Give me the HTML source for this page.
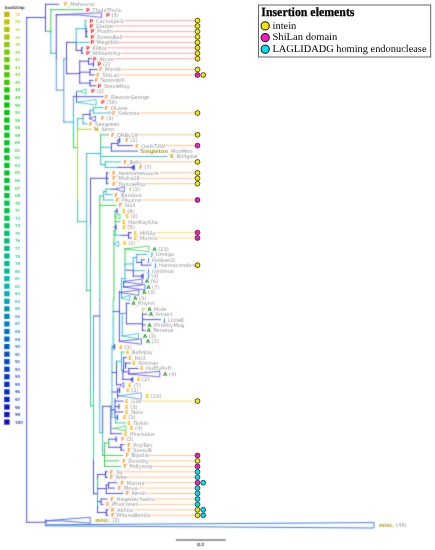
<!DOCTYPE html>
<html><head><meta charset="utf-8"><title>tree</title>
<style>html,body{margin:0;padding:0;background:#fff}svg{display:block}</style></head>
<body>
<svg width="435" height="550" viewBox="0 0 435 550" text-rendering="geometricPrecision">
<defs><filter id="bl" x="-5%" y="-5%" width="110%" height="110%"><feConvolveMatrix order="3" kernelMatrix="1 3 1 3 18 3 1 3 1" divisor="34" edgeMode="none" preserveAlpha="false"/></filter><filter id="bt" x="-5%" y="-5%" width="110%" height="110%"><feConvolveMatrix order="3" kernelMatrix="1 2 1 2 22 2 1 2 1" divisor="34" edgeMode="none" preserveAlpha="false"/></filter></defs>
<rect width="435" height="550" fill="#fff"/>
<g filter="url(#bl)">
<g stroke-linecap="square"><line x1="26.7" y1="17.5" x2="26.7" y2="522.3" stroke="#4040dc" stroke-width="0.92"/><line x1="26.7" y1="17.5" x2="45.5" y2="17.5" stroke="#4040dc" stroke-width="0.92"/><line x1="45.5" y1="4.3" x2="45.5" y2="31.3" stroke="#4040dc" stroke-width="0.92"/><line x1="45.5" y1="4.3" x2="58.5" y2="4.3" stroke="#4040dc" stroke-width="0.92"/><line x1="45.5" y1="31.3" x2="50.8" y2="31.3" stroke="#28c846" stroke-width="0.92"/><line x1="50.8" y1="9.7" x2="50.8" y2="32.0" stroke="#28c846" stroke-width="0.92"/><line x1="50.8" y1="32.0" x2="50.8" y2="53.2" stroke="#22b8c4" stroke-width="0.92"/><line x1="50.8" y1="9.7" x2="83.0" y2="9.7" stroke="#28c846" stroke-width="0.92"/><line x1="50.8" y1="53.2" x2="56.3" y2="53.2" stroke="#22b8c4" stroke-width="0.92"/><line x1="56.3" y1="14.8" x2="56.3" y2="60.0" stroke="#4040dc" stroke-width="0.92"/><line x1="56.3" y1="60.0" x2="56.3" y2="90.2" stroke="#4a90e2" stroke-width="0.92"/><polygon points="56.3,14.8 101.7,12.8 101.7,17.4 79.0,15.0" fill="none" stroke="#4040dc" stroke-width="0.75" stroke-linejoin="miter"/><line x1="56.3" y1="90.2" x2="63.8" y2="90.2" stroke="#4a90e2" stroke-width="0.92"/><line x1="63.8" y1="59.0" x2="63.8" y2="122.0" stroke="#4a90e2" stroke-width="0.92"/><line x1="63.8" y1="59.0" x2="66.5" y2="59.0" stroke="#22b8c4" stroke-width="0.92"/><line x1="63.8" y1="122.0" x2="73.4" y2="122.0" stroke="#4a90e2" stroke-width="0.92"/><line x1="66.5" y1="42.4" x2="66.5" y2="73.6" stroke="#4040dc" stroke-width="0.92"/><line x1="66.5" y1="42.4" x2="76.2" y2="42.4" stroke="#4040dc" stroke-width="0.92"/><line x1="76.2" y1="28.6" x2="76.2" y2="42.4" stroke="#22b8c4" stroke-width="0.92"/><line x1="76.2" y1="42.4" x2="76.2" y2="50.0" stroke="#4040dc" stroke-width="0.92"/><line x1="76.2" y1="28.6" x2="85.2" y2="28.6" stroke="#22b8c4" stroke-width="0.92"/><line x1="85.2" y1="20.6" x2="85.2" y2="29.0" stroke="#22b8c4" stroke-width="0.92"/><line x1="85.2" y1="20.6" x2="86.3" y2="20.6" stroke="#22b8c4" stroke-width="0.92"/><line x1="85.2" y1="26.0" x2="86.3" y2="26.0" stroke="#22b8c4" stroke-width="0.92"/><line x1="86.1" y1="28.6" x2="86.1" y2="36.9" stroke="#4040dc" stroke-width="1.3"/><line x1="86.1" y1="31.5" x2="87.2" y2="31.5" stroke="#4040dc" stroke-width="0.92"/><line x1="86.1" y1="36.9" x2="87.2" y2="36.9" stroke="#4040dc" stroke-width="0.92"/><line x1="76.2" y1="42.4" x2="89.0" y2="42.4" stroke="#22b8c4" stroke-width="0.92"/><line x1="76.2" y1="50.4" x2="81.7" y2="50.4" stroke="#4040dc" stroke-width="0.92"/><line x1="81.7" y1="47.8" x2="81.7" y2="53.2" stroke="#4040dc" stroke-width="1.1"/><line x1="81.7" y1="47.8" x2="82.8" y2="47.8" stroke="#4040dc" stroke-width="0.92"/><line x1="81.7" y1="53.2" x2="82.8" y2="53.2" stroke="#4040dc" stroke-width="0.92"/><line x1="66.5" y1="73.6" x2="79.7" y2="73.6" stroke="#4040dc" stroke-width="0.92"/><line x1="79.7" y1="61.2" x2="79.7" y2="83.1" stroke="#4040dc" stroke-width="0.92"/><line x1="79.7" y1="61.2" x2="88.6" y2="61.2" stroke="#4040dc" stroke-width="0.92"/><line x1="88.6" y1="58.7" x2="88.6" y2="64.1" stroke="#4040dc" stroke-width="0.92"/><line x1="88.6" y1="58.7" x2="91.4" y2="58.7" stroke="#4040dc" stroke-width="0.92"/><line x1="88.6" y1="64.1" x2="93.4" y2="64.1" stroke="#4040dc" stroke-width="0.92"/><line x1="93.4" y1="61.9" x2="93.4" y2="66.3" stroke="#4040dc" stroke-width="1.1"/><line x1="79.7" y1="72.2" x2="90.0" y2="72.2" stroke="#4040dc" stroke-width="0.92"/><line x1="90.0" y1="69.5" x2="90.0" y2="75.0" stroke="#4040dc" stroke-width="0.92"/><line x1="90.0" y1="69.5" x2="97.0" y2="69.5" stroke="#4040dc" stroke-width="0.92"/><line x1="90.0" y1="75.0" x2="94.5" y2="75.0" stroke="#4040dc" stroke-width="0.92"/><line x1="79.7" y1="83.1" x2="90.0" y2="83.1" stroke="#4040dc" stroke-width="0.92"/><line x1="90.0" y1="80.4" x2="90.0" y2="85.8" stroke="#4040dc" stroke-width="0.92"/><line x1="90.0" y1="80.4" x2="93.0" y2="80.4" stroke="#4040dc" stroke-width="0.92"/><line x1="90.0" y1="85.8" x2="96.0" y2="85.8" stroke="#4040dc" stroke-width="0.92"/><line x1="73.4" y1="96.4" x2="73.4" y2="115.0" stroke="#4a90e2" stroke-width="0.92"/><line x1="73.4" y1="115.0" x2="73.4" y2="135.0" stroke="#22b8c4" stroke-width="0.92"/><line x1="73.4" y1="135.0" x2="73.4" y2="147.6" stroke="#28c846" stroke-width="0.92"/><line x1="73.4" y1="96.4" x2="76.5" y2="96.4" stroke="#4040dc" stroke-width="0.92"/><line x1="76.5" y1="91.3" x2="76.5" y2="102.0" stroke="#4040dc" stroke-width="0.92"/><line x1="76.5" y1="91.3" x2="81.0" y2="91.3" stroke="#22b8c4" stroke-width="0.92"/><polygon points="81.0,91.3 86.1,88.9 86.1,93.7" fill="none" stroke="#24c890" stroke-width="0.75" stroke-linejoin="miter"/><line x1="76.5" y1="96.7" x2="103.0" y2="96.7" stroke="#4040dc" stroke-width="0.92"/><polygon points="76.5,102.1 96.2,99.6 96.2,104.6" fill="none" stroke="#22b8c4" stroke-width="0.75" stroke-linejoin="miter"/><line x1="73.4" y1="147.6" x2="77.6" y2="147.6" stroke="#28c846" stroke-width="0.92"/><line x1="77.6" y1="118.6" x2="77.6" y2="128.0" stroke="#22b8c4" stroke-width="0.92"/><line x1="77.6" y1="128.0" x2="77.6" y2="200.0" stroke="#9ed02a" stroke-width="0.92"/><line x1="77.6" y1="200.0" x2="77.6" y2="221.7" stroke="#24c890" stroke-width="0.92"/><line x1="77.6" y1="118.6" x2="83.1" y2="118.6" stroke="#22b8c4" stroke-width="0.92"/><line x1="83.1" y1="114.5" x2="83.1" y2="123.9" stroke="#4a90e2" stroke-width="0.92"/><line x1="83.1" y1="123.9" x2="87.0" y2="123.9" stroke="#22b8c4" stroke-width="0.92"/><line x1="83.1" y1="114.5" x2="90.0" y2="114.5" stroke="#4040dc" stroke-width="0.92"/><line x1="90.0" y1="110.3" x2="90.0" y2="118.5" stroke="#4040dc" stroke-width="0.92"/><line x1="90.0" y1="110.3" x2="93.4" y2="110.3" stroke="#22b8c4" stroke-width="0.92"/><line x1="93.4" y1="107.6" x2="93.4" y2="113.0" stroke="#22b8c4" stroke-width="0.92"/><line x1="93.4" y1="107.6" x2="103.0" y2="107.6" stroke="#22b8c4" stroke-width="0.92"/><line x1="93.4" y1="113.0" x2="111.0" y2="113.0" stroke="#22b8c4" stroke-width="0.92"/><polygon points="90.0,118.5 95.5,116.1 95.5,120.9" fill="none" stroke="#4040dc" stroke-width="0.75" stroke-linejoin="miter"/><line x1="77.6" y1="129.3" x2="91.0" y2="129.3" stroke="#9ed02a" stroke-width="0.92"/><line x1="77.6" y1="221.7" x2="86.7" y2="221.7" stroke="#24c890" stroke-width="0.92"/><line x1="86.7" y1="153.5" x2="86.7" y2="235.0" stroke="#22b8c4" stroke-width="0.92"/><line x1="86.7" y1="235.0" x2="86.7" y2="290.7" stroke="#24c890" stroke-width="0.92"/><line x1="86.7" y1="153.5" x2="100.7" y2="153.5" stroke="#22b8c4" stroke-width="0.92"/><line x1="100.7" y1="134.8" x2="100.7" y2="150.0" stroke="#28c846" stroke-width="0.92"/><line x1="100.7" y1="150.0" x2="100.7" y2="164.6" stroke="#22b8c4" stroke-width="0.92"/><line x1="100.7" y1="134.8" x2="108.5" y2="134.8" stroke="#28c846" stroke-width="0.92"/><line x1="100.7" y1="147.3" x2="111.4" y2="147.3" stroke="#22b8c4" stroke-width="0.92"/><line x1="111.4" y1="143.5" x2="111.4" y2="151.1" stroke="#4040dc" stroke-width="0.92"/><line x1="111.4" y1="151.1" x2="137.5" y2="151.1" stroke="#4040dc" stroke-width="0.92"/><line x1="111.4" y1="143.5" x2="117.9" y2="143.5" stroke="#4040dc" stroke-width="0.92"/><line x1="117.9" y1="140.2" x2="117.9" y2="145.6" stroke="#4040dc" stroke-width="0.92"/><line x1="117.9" y1="140.2" x2="119.6" y2="140.2" stroke="#4040dc" stroke-width="0.92"/><line x1="119.6" y1="138.0" x2="119.6" y2="142.4" stroke="#4040dc" stroke-width="1.1"/><line x1="117.9" y1="145.6" x2="132.5" y2="145.6" stroke="#4040dc" stroke-width="0.92"/><line x1="100.7" y1="156.5" x2="167.0" y2="156.5" stroke="#22b8c4" stroke-width="0.92"/><line x1="100.7" y1="164.6" x2="105.3" y2="164.6" stroke="#22b8c4" stroke-width="0.92"/><line x1="105.3" y1="161.9" x2="105.3" y2="167.4" stroke="#22b8c4" stroke-width="0.92"/><line x1="105.3" y1="161.9" x2="120.5" y2="161.9" stroke="#24c890" stroke-width="0.92"/><line x1="105.3" y1="167.4" x2="118.0" y2="167.4" stroke="#22b8c4" stroke-width="0.92"/><line x1="118.0" y1="167.4" x2="131.2" y2="167.4" stroke="#4040dc" stroke-width="0.92"/><polygon points="131.2,167.4 134.4,165.1 134.4,169.7" fill="#4040dc" stroke="#4040dc" stroke-width="0.75" stroke-linejoin="miter"/><line x1="86.7" y1="290.7" x2="90.5" y2="290.7" stroke="#24c890" stroke-width="0.92"/><line x1="90.5" y1="178.3" x2="90.5" y2="225.0" stroke="#4040dc" stroke-width="0.92"/><line x1="90.5" y1="225.0" x2="90.5" y2="260.0" stroke="#4a90e2" stroke-width="0.92"/><line x1="90.5" y1="260.0" x2="90.5" y2="285.0" stroke="#22b8c4" stroke-width="0.92"/><line x1="90.5" y1="285.0" x2="90.5" y2="405.7" stroke="#24c890" stroke-width="0.92"/><line x1="90.5" y1="178.3" x2="106.7" y2="178.3" stroke="#4040dc" stroke-width="0.92"/><line x1="106.7" y1="172.8" x2="106.7" y2="183.7" stroke="#4040dc" stroke-width="1.1"/><line x1="106.7" y1="172.8" x2="108.0" y2="172.8" stroke="#4040dc" stroke-width="0.92"/><line x1="106.7" y1="178.3" x2="108.0" y2="178.3" stroke="#4040dc" stroke-width="0.92"/><line x1="106.7" y1="183.7" x2="108.0" y2="183.7" stroke="#4040dc" stroke-width="0.92"/><line x1="90.5" y1="405.7" x2="93.5" y2="405.7" stroke="#24c890" stroke-width="0.92"/><line x1="93.5" y1="316.0" x2="93.5" y2="390.0" stroke="#4a90e2" stroke-width="0.92"/><line x1="93.5" y1="390.0" x2="93.5" y2="460.0" stroke="#24c890" stroke-width="0.92"/><line x1="93.5" y1="460.0" x2="93.5" y2="493.7" stroke="#4040dc" stroke-width="0.92"/><line x1="93.5" y1="316.0" x2="99.8" y2="316.0" stroke="#4040dc" stroke-width="0.92"/><line x1="99.8" y1="195.9" x2="99.8" y2="275.0" stroke="#28c846" stroke-width="0.92"/><line x1="99.8" y1="275.0" x2="99.8" y2="300.0" stroke="#24c890" stroke-width="0.92"/><line x1="99.8" y1="300.0" x2="99.8" y2="400.0" stroke="#4a90e2" stroke-width="0.92"/><line x1="99.8" y1="400.0" x2="99.8" y2="432.6" stroke="#22b8c4" stroke-width="0.92"/><line x1="99.8" y1="195.9" x2="103.6" y2="195.9" stroke="#22b8c4" stroke-width="0.92"/><line x1="103.6" y1="191.5" x2="103.6" y2="200.0" stroke="#22b8c4" stroke-width="0.92"/><line x1="103.6" y1="191.5" x2="105.9" y2="191.5" stroke="#22b8c4" stroke-width="0.92"/><line x1="105.9" y1="189.1" x2="105.9" y2="194.6" stroke="#22b8c4" stroke-width="0.92"/><line x1="105.9" y1="189.1" x2="112.0" y2="189.1" stroke="#22b8c4" stroke-width="0.92"/><line x1="112.0" y1="189.1" x2="116.6" y2="189.1" stroke="#4040dc" stroke-width="0.92"/><polygon points="116.6,189.1 124.3,186.5 124.3,191.7" fill="none" stroke="#4040dc" stroke-width="0.75" stroke-linejoin="miter"/><line x1="105.9" y1="194.6" x2="112.0" y2="194.6" stroke="#22b8c4" stroke-width="0.92"/><line x1="103.6" y1="200.0" x2="113.0" y2="200.0" stroke="#22b8c4" stroke-width="0.92"/><line x1="99.8" y1="205.4" x2="116.0" y2="205.4" stroke="#28c846" stroke-width="0.92"/><line x1="115.2" y1="210.9" x2="115.2" y2="234.8" stroke="#28c846" stroke-width="0.92"/><line x1="114.0" y1="230.5" x2="114.0" y2="300.0" stroke="#28c846" stroke-width="0.92"/><line x1="113.2" y1="300.0" x2="113.2" y2="320.0" stroke="#24c890" stroke-width="0.92"/><line x1="113.2" y1="320.0" x2="113.2" y2="350.0" stroke="#22b8c4" stroke-width="0.92"/><line x1="112.0" y1="346.0" x2="112.0" y2="418.0" stroke="#22b8c4" stroke-width="0.92"/><line x1="110.8" y1="406.0" x2="110.8" y2="433.7" stroke="#4040dc" stroke-width="0.92"/><line x1="102.6" y1="406.4" x2="111.0" y2="406.4" stroke="#4040dc" stroke-width="0.92"/><line x1="102.6" y1="406.4" x2="102.6" y2="432.6" stroke="#4040dc" stroke-width="0.92"/><line x1="102.6" y1="432.6" x2="102.6" y2="455.5" stroke="#22b8c4" stroke-width="0.92"/><line x1="99.8" y1="432.6" x2="102.6" y2="432.6" stroke="#22b8c4" stroke-width="0.92"/><line x1="110.8" y1="433.7" x2="121.5" y2="433.7" stroke="#4040dc" stroke-width="0.92"/><line x1="115.2" y1="210.9" x2="117.0" y2="210.9" stroke="#4040dc" stroke-width="0.92"/><line x1="117.0" y1="208.7" x2="117.0" y2="213.1" stroke="#4040dc" stroke-width="1.1"/><polygon points="115.2,216.3 120.0,213.9 120.0,218.7" fill="none" stroke="#28c846" stroke-width="0.75" stroke-linejoin="miter"/><line x1="115.2" y1="221.7" x2="120.0" y2="221.7" stroke="#28c846" stroke-width="0.92"/><line x1="114.0" y1="227.2" x2="116.0" y2="227.2" stroke="#4040dc" stroke-width="0.92"/><line x1="116.0" y1="225.0" x2="116.0" y2="229.4" stroke="#4040dc" stroke-width="1.1"/><line x1="114.5" y1="235.3" x2="122.0" y2="235.3" stroke="#22b8c4" stroke-width="0.92"/><line x1="122.0" y1="235.3" x2="128.6" y2="235.3" stroke="#4040dc" stroke-width="0.92"/><line x1="128.6" y1="232.6" x2="128.6" y2="238.0" stroke="#4040dc" stroke-width="1.1"/><line x1="128.6" y1="232.6" x2="131.5" y2="232.6" stroke="#4040dc" stroke-width="0.92"/><line x1="128.6" y1="238.0" x2="131.5" y2="238.0" stroke="#4040dc" stroke-width="0.92"/><polygon points="114.0,243.5 118.6,241.1 118.6,245.9" fill="none" stroke="#22b8c4" stroke-width="0.75" stroke-linejoin="miter"/><line x1="113.2" y1="311.6" x2="119.4" y2="311.6" stroke="#4040dc" stroke-width="0.92"/><line x1="119.4" y1="291.3" x2="119.4" y2="341.3" stroke="#4040dc" stroke-width="0.92"/><line x1="125.0" y1="248.9" x2="125.0" y2="265.0" stroke="#28c846" stroke-width="0.92"/><line x1="125.0" y1="265.0" x2="125.0" y2="283.0" stroke="#22b8c4" stroke-width="0.92"/><polygon points="125.0,248.9 148.9,246.0 148.9,251.2" fill="none" stroke="#28c846" stroke-width="0.75" stroke-linejoin="miter"/><line x1="125.0" y1="264.0" x2="133.3" y2="264.0" stroke="#22b8c4" stroke-width="0.92"/><line x1="133.3" y1="257.5" x2="133.3" y2="270.7" stroke="#22b8c4" stroke-width="0.92"/><line x1="133.3" y1="257.5" x2="136.7" y2="257.5" stroke="#22b8c4" stroke-width="0.92"/><line x1="136.7" y1="254.4" x2="136.7" y2="262.5" stroke="#4a90e2" stroke-width="0.92"/><line x1="136.7" y1="254.4" x2="147.0" y2="254.4" stroke="#22b8c4" stroke-width="0.92"/><line x1="136.7" y1="262.5" x2="141.6" y2="262.5" stroke="#4040dc" stroke-width="0.92"/><line x1="141.6" y1="259.8" x2="141.6" y2="265.2" stroke="#4040dc" stroke-width="0.92"/><line x1="141.6" y1="259.8" x2="144.5" y2="259.8" stroke="#4040dc" stroke-width="0.92"/><line x1="141.6" y1="265.2" x2="151.0" y2="265.2" stroke="#4040dc" stroke-width="0.92"/><line x1="133.3" y1="270.7" x2="144.5" y2="270.7" stroke="#22b8c4" stroke-width="0.92"/><line x1="125.7" y1="270.2" x2="133.3" y2="270.2" stroke="#4040dc" stroke-width="0.92"/><line x1="133.3" y1="270.7" x2="133.3" y2="276.1" stroke="#4040dc" stroke-width="0.92"/><line x1="133.3" y1="276.1" x2="141.0" y2="276.1" stroke="#4040dc" stroke-width="0.92"/><polygon points="141.0,276.1 143.2,273.7 143.2,278.5" fill="#4040dc" stroke="#4040dc" stroke-width="0.75" stroke-linejoin="miter"/><polygon points="123.6,281.5 142.2,279.1 142.2,283.9" fill="none" stroke="#4040dc" stroke-width="0.75" stroke-linejoin="miter"/><polygon points="123.6,287.0 145.0,284.6 145.0,289.4" fill="none" stroke="#4040dc" stroke-width="0.75" stroke-linejoin="miter"/><line x1="123.6" y1="281.5" x2="123.6" y2="287.0" stroke="#4040dc" stroke-width="0.92"/><line x1="121.5" y1="278.6" x2="121.5" y2="297.8" stroke="#22b8c4" stroke-width="0.92"/><line x1="121.5" y1="278.6" x2="125.0" y2="278.6" stroke="#22b8c4" stroke-width="0.92"/><polygon points="119.5,292.4 138.8,290.0 138.8,294.8" fill="none" stroke="#4040dc" stroke-width="0.75" stroke-linejoin="miter"/><polygon points="121.5,297.8 129.6,295.4 129.6,300.2" fill="none" stroke="#22b8c4" stroke-width="0.75" stroke-linejoin="miter"/><line x1="122.2" y1="313.4" x2="122.2" y2="335.9" stroke="#22b8c4" stroke-width="0.92"/><line x1="119.4" y1="313.4" x2="126.4" y2="313.4" stroke="#4a90e2" stroke-width="0.92"/><line x1="126.4" y1="303.3" x2="126.4" y2="323.8" stroke="#4040dc" stroke-width="0.92"/><line x1="126.4" y1="303.3" x2="129.5" y2="303.3" stroke="#4040dc" stroke-width="0.92"/><line x1="126.4" y1="323.8" x2="142.5" y2="323.8" stroke="#4040dc" stroke-width="0.92"/><line x1="142.5" y1="308.7" x2="142.5" y2="314.0" stroke="#9ed02a" stroke-width="0.92"/><line x1="142.5" y1="314.0" x2="142.5" y2="330.5" stroke="#4040dc" stroke-width="0.92"/><line x1="142.5" y1="308.7" x2="145.5" y2="308.7" stroke="#9ed02a" stroke-width="0.92"/><line x1="142.5" y1="314.2" x2="147.0" y2="314.2" stroke="#4040dc" stroke-width="0.92"/><line x1="142.5" y1="319.6" x2="160.5" y2="319.6" stroke="#4040dc" stroke-width="0.92"/><line x1="142.5" y1="325.0" x2="145.5" y2="325.0" stroke="#4040dc" stroke-width="0.92"/><line x1="142.5" y1="330.5" x2="145.0" y2="330.5" stroke="#4040dc" stroke-width="0.92"/><polygon points="122.2,335.9 138.5,333.5 138.5,338.3" fill="none" stroke="#22b8c4" stroke-width="0.75" stroke-linejoin="miter"/><polygon points="119.4,341.3 141.5,338.9 141.5,343.7" fill="none" stroke="#4040dc" stroke-width="0.75" stroke-linejoin="miter"/><line x1="112.5" y1="346.8" x2="114.6" y2="346.8" stroke="#4040dc" stroke-width="0.92"/><line x1="114.6" y1="344.6" x2="114.6" y2="349.0" stroke="#4040dc" stroke-width="1.1"/><line x1="112.0" y1="372.5" x2="116.5" y2="372.5" stroke="#4040dc" stroke-width="0.92"/><line x1="116.5" y1="361.3" x2="116.5" y2="384.8" stroke="#4040dc" stroke-width="0.92"/><line x1="116.5" y1="361.3" x2="121.5" y2="361.3" stroke="#22b8c4" stroke-width="0.92"/><line x1="121.5" y1="352.2" x2="121.5" y2="370.3" stroke="#22b8c4" stroke-width="0.92"/><line x1="121.5" y1="352.2" x2="124.0" y2="352.2" stroke="#22b8c4" stroke-width="0.92"/><line x1="123.6" y1="357.6" x2="123.6" y2="371.9" stroke="#4040dc" stroke-width="0.92"/><line x1="123.6" y1="357.6" x2="126.5" y2="357.6" stroke="#4040dc" stroke-width="0.92"/><line x1="125.5" y1="363.0" x2="125.5" y2="368.0" stroke="#4040dc" stroke-width="1.2"/><line x1="125.5" y1="363.1" x2="130.5" y2="363.1" stroke="#4040dc" stroke-width="0.92"/><line x1="123.6" y1="371.9" x2="128.8" y2="371.9" stroke="#4040dc" stroke-width="0.92"/><line x1="128.8" y1="368.5" x2="128.8" y2="373.9" stroke="#4040dc" stroke-width="0.92"/><line x1="128.8" y1="368.5" x2="138.0" y2="368.5" stroke="#4040dc" stroke-width="0.92"/><polygon points="128.8,373.9 159.8,371.4 159.8,376.4" fill="none" stroke="#4040dc" stroke-width="0.75" stroke-linejoin="miter"/><line x1="122.8" y1="370.0" x2="122.8" y2="379.4" stroke="#4040dc" stroke-width="0.92"/><line x1="122.8" y1="379.4" x2="130.5" y2="379.4" stroke="#4040dc" stroke-width="0.92"/><polygon points="130.5,379.4 132.8,377.1 132.8,381.7" fill="#4040dc" stroke="#4040dc" stroke-width="0.75" stroke-linejoin="miter"/><line x1="116.5" y1="384.8" x2="120.6" y2="384.8" stroke="#4040dc" stroke-width="0.92"/><polygon points="120.6,384.8 123.8,382.5 123.8,387.1" fill="none" stroke="#4040dc" stroke-width="0.75" stroke-linejoin="miter"/><line x1="112.0" y1="392.0" x2="117.6" y2="392.0" stroke="#4040dc" stroke-width="0.92"/><line x1="117.6" y1="388.0" x2="117.6" y2="398.0" stroke="#4040dc" stroke-width="0.92"/><line x1="117.6" y1="390.3" x2="119.6" y2="390.3" stroke="#4040dc" stroke-width="0.92"/><line x1="119.6" y1="388.1" x2="119.6" y2="392.5" stroke="#4040dc" stroke-width="1.1"/><line x1="117.6" y1="395.7" x2="119.5" y2="395.7" stroke="#4040dc" stroke-width="0.92"/><polygon points="119.5,395.7 141.4,392.8 141.4,398.6" fill="none" stroke="#4a90e2" stroke-width="0.75" stroke-linejoin="miter"/><line x1="115.0" y1="398.8" x2="115.0" y2="418.0" stroke="#4040dc" stroke-width="0.92"/><line x1="111.5" y1="409.8" x2="115.0" y2="409.8" stroke="#4040dc" stroke-width="0.92"/><line x1="115.0" y1="401.1" x2="123.0" y2="401.1" stroke="#4040dc" stroke-width="0.92"/><line x1="115.0" y1="406.6" x2="118.9" y2="406.6" stroke="#4040dc" stroke-width="0.92"/><line x1="118.9" y1="404.4" x2="118.9" y2="408.8" stroke="#4040dc" stroke-width="1.1"/><line x1="115.0" y1="412.0" x2="123.0" y2="412.0" stroke="#4040dc" stroke-width="0.92"/><line x1="115.0" y1="417.4" x2="117.5" y2="417.4" stroke="#4040dc" stroke-width="0.92"/><line x1="117.5" y1="415.2" x2="117.5" y2="419.6" stroke="#4040dc" stroke-width="1.1"/><line x1="115.7" y1="416.7" x2="115.7" y2="422.9" stroke="#24c890" stroke-width="0.92"/><line x1="115.7" y1="422.9" x2="125.5" y2="422.9" stroke="#24c890" stroke-width="0.92"/><line x1="110.8" y1="428.3" x2="115.5" y2="428.3" stroke="#28c846" stroke-width="0.92"/><polygon points="115.5,428.3 126.0,425.8 126.0,430.8" fill="none" stroke="#28c846" stroke-width="0.75" stroke-linejoin="miter"/><line x1="102.6" y1="455.5" x2="104.5" y2="455.5" stroke="#28c846" stroke-width="0.92"/><line x1="104.5" y1="443.0" x2="104.5" y2="466.4" stroke="#28c846" stroke-width="0.92"/><line x1="104.5" y1="443.0" x2="108.8" y2="443.0" stroke="#28c846" stroke-width="0.92"/><line x1="108.8" y1="439.2" x2="108.8" y2="447.3" stroke="#28c846" stroke-width="0.92"/><line x1="108.8" y1="439.2" x2="116.2" y2="439.2" stroke="#4040dc" stroke-width="0.92"/><line x1="116.2" y1="437.0" x2="116.2" y2="441.4" stroke="#4040dc" stroke-width="1.1"/><line x1="108.8" y1="447.3" x2="121.0" y2="447.3" stroke="#4040dc" stroke-width="0.92"/><line x1="121.0" y1="444.6" x2="121.0" y2="450.0" stroke="#4040dc" stroke-width="1.1"/><line x1="121.0" y1="444.6" x2="124.0" y2="444.6" stroke="#4040dc" stroke-width="0.92"/><line x1="121.0" y1="450.1" x2="124.0" y2="450.1" stroke="#4040dc" stroke-width="0.92"/><line x1="104.5" y1="455.5" x2="122.5" y2="455.5" stroke="#28c846" stroke-width="0.92"/><line x1="104.5" y1="460.9" x2="119.0" y2="460.9" stroke="#28c846" stroke-width="0.92"/><line x1="104.5" y1="466.4" x2="120.5" y2="466.4" stroke="#28c846" stroke-width="0.92"/><line x1="93.5" y1="493.7" x2="97.6" y2="493.7" stroke="#4040dc" stroke-width="0.92"/><line x1="97.6" y1="474.5" x2="97.6" y2="479.0" stroke="#4040dc" stroke-width="0.92"/><line x1="97.6" y1="479.0" x2="97.6" y2="485.0" stroke="#28c846" stroke-width="0.92"/><line x1="97.6" y1="485.0" x2="97.6" y2="500.0" stroke="#4a90e2" stroke-width="0.92"/><line x1="97.6" y1="500.0" x2="97.6" y2="506.0" stroke="#28c846" stroke-width="0.92"/><line x1="97.6" y1="506.0" x2="97.6" y2="512.5" stroke="#4040dc" stroke-width="0.92"/><line x1="97.6" y1="474.5" x2="105.5" y2="474.5" stroke="#4040dc" stroke-width="0.92"/><line x1="105.5" y1="471.8" x2="105.5" y2="477.2" stroke="#4040dc" stroke-width="1.1"/><line x1="105.5" y1="471.8" x2="107.5" y2="471.8" stroke="#4040dc" stroke-width="0.92"/><line x1="105.5" y1="477.2" x2="107.5" y2="477.2" stroke="#4040dc" stroke-width="0.92"/><line x1="97.6" y1="488.6" x2="106.3" y2="488.6" stroke="#4040dc" stroke-width="0.92"/><line x1="106.3" y1="484.9" x2="106.3" y2="493.5" stroke="#4040dc" stroke-width="0.92"/><line x1="106.3" y1="493.5" x2="122.5" y2="493.5" stroke="#4040dc" stroke-width="0.92"/><line x1="106.3" y1="484.9" x2="108.6" y2="484.9" stroke="#4040dc" stroke-width="0.92"/><line x1="108.6" y1="482.7" x2="108.6" y2="488.1" stroke="#4040dc" stroke-width="0.92"/><line x1="108.6" y1="482.7" x2="117.0" y2="482.7" stroke="#4040dc" stroke-width="0.92"/><line x1="108.6" y1="488.1" x2="114.5" y2="488.1" stroke="#4040dc" stroke-width="0.92"/><line x1="97.6" y1="501.7" x2="101.1" y2="501.7" stroke="#4040dc" stroke-width="0.92"/><line x1="101.1" y1="499.0" x2="101.1" y2="504.4" stroke="#4040dc" stroke-width="0.92"/><line x1="101.1" y1="499.0" x2="107.0" y2="499.0" stroke="#4040dc" stroke-width="0.92"/><line x1="101.1" y1="504.4" x2="103.0" y2="504.4" stroke="#4040dc" stroke-width="0.92"/><line x1="97.6" y1="512.5" x2="106.3" y2="512.5" stroke="#4040dc" stroke-width="0.92"/><line x1="106.3" y1="509.8" x2="106.3" y2="515.3" stroke="#4040dc" stroke-width="1.1"/><line x1="106.3" y1="509.8" x2="108.0" y2="509.8" stroke="#4040dc" stroke-width="0.92"/><line x1="106.3" y1="515.3" x2="108.0" y2="515.3" stroke="#4040dc" stroke-width="0.92"/><line x1="26.7" y1="522.3" x2="45.8" y2="522.3" stroke="#4040dc" stroke-width="0.92"/><line x1="45.8" y1="519.8" x2="45.8" y2="525.6" stroke="#4040dc" stroke-width="0.92"/><polygon points="45.8,520.8 90.3,517.3 90.3,523.2 63.0,520.9" fill="none" stroke="#4058e0" stroke-width="0.85" stroke-linejoin="miter"/><polygon points="45.8,524.8 374.0,522.6 374.0,528.0 45.8,525.8" fill="none" stroke="#3f80dc" stroke-width="1.0" stroke-linejoin="miter"/></g>
<line x1="124.2" y1="20.6" x2="195.5" y2="20.6" stroke="#ff9c9c" stroke-width="0.9"/>
<line x1="113.4" y1="26.0" x2="195.5" y2="26.0" stroke="#ff9c9c" stroke-width="0.9"/>
<line x1="113.2" y1="31.5" x2="195.5" y2="31.5" stroke="#ff9c9c" stroke-width="0.9"/>
<line x1="122.6" y1="36.9" x2="195.5" y2="36.9" stroke="#ff9c9c" stroke-width="0.9"/>
<line x1="119.2" y1="42.4" x2="195.5" y2="42.4" stroke="#ff9c9c" stroke-width="0.9"/>
<line x1="107.3" y1="47.8" x2="195.5" y2="47.8" stroke="#ff9c9c" stroke-width="0.9"/>
<line x1="120.9" y1="53.2" x2="195.5" y2="53.2" stroke="#ff9c9c" stroke-width="0.9"/>
<line x1="114.1" y1="58.7" x2="195.5" y2="58.7" stroke="#ff9c9c" stroke-width="0.9"/>
<line x1="121.6" y1="69.5" x2="195.5" y2="69.5" stroke="#ffbe84" stroke-width="0.9"/>
<line x1="119.9" y1="75.0" x2="195.5" y2="75.0" stroke="#ffbe84" stroke-width="0.9"/>
<line x1="139.6" y1="113.0" x2="195.5" y2="113.0" stroke="#ffbe84" stroke-width="0.9"/>
<line x1="138.0" y1="134.8" x2="195.5" y2="134.8" stroke="#ffbe84" stroke-width="0.9"/>
<line x1="165.5" y1="145.6" x2="195.5" y2="145.6" stroke="#ffbe84" stroke-width="0.9"/>
<line x1="141.2" y1="161.9" x2="195.5" y2="161.9" stroke="#ffbe84" stroke-width="0.9"/>
<line x1="158.5" y1="172.8" x2="195.5" y2="172.8" stroke="#ffbe84" stroke-width="0.9"/>
<line x1="140.2" y1="178.3" x2="195.5" y2="178.3" stroke="#ffbe84" stroke-width="0.9"/>
<line x1="145.9" y1="183.7" x2="195.5" y2="183.7" stroke="#ffbe84" stroke-width="0.9"/>
<line x1="141.5" y1="200.0" x2="195.5" y2="200.0" stroke="#ffbe84" stroke-width="0.9"/>
<line x1="155.8" y1="232.6" x2="195.5" y2="232.6" stroke="#ffd860" stroke-width="0.9"/>
<line x1="157.5" y1="238.0" x2="195.5" y2="238.0" stroke="#ffd860" stroke-width="0.9"/>
<line x1="191.7" y1="265.2" x2="195.5" y2="265.2" stroke="#60a8ff" stroke-width="0.9"/>
<line x1="143.2" y1="401.1" x2="195.5" y2="401.1" stroke="#ffd860" stroke-width="0.9"/>
<line x1="150.0" y1="455.5" x2="195.5" y2="455.5" stroke="#ffbe84" stroke-width="0.9"/>
<line x1="149.2" y1="460.9" x2="195.5" y2="460.9" stroke="#ffbe84" stroke-width="0.9"/>
<line x1="152.5" y1="466.4" x2="195.5" y2="466.4" stroke="#ffbe84" stroke-width="0.9"/>
<line x1="123.0" y1="471.8" x2="195.5" y2="471.8" stroke="#ffbe84" stroke-width="0.9"/>
<line x1="127.2" y1="477.2" x2="195.5" y2="477.2" stroke="#ffbe84" stroke-width="0.9"/>
<line x1="145.0" y1="482.7" x2="195.5" y2="482.7" stroke="#ffbe84" stroke-width="0.9"/>
<line x1="138.0" y1="488.1" x2="195.5" y2="488.1" stroke="#ffbe84" stroke-width="0.9"/>
<line x1="146.6" y1="493.5" x2="195.5" y2="493.5" stroke="#ffbe84" stroke-width="0.9"/>
<line x1="155.1" y1="499.0" x2="195.5" y2="499.0" stroke="#ffbe84" stroke-width="0.9"/>
<line x1="137.7" y1="504.4" x2="195.5" y2="504.4" stroke="#ffbe84" stroke-width="0.9"/>
<line x1="133.1" y1="509.8" x2="195.5" y2="509.8" stroke="#ffbe84" stroke-width="0.9"/>
<line x1="150.8" y1="515.3" x2="195.5" y2="515.3" stroke="#ffbe84" stroke-width="0.9"/>
<line x1="176" y1="540" x2="225.7" y2="540" stroke="#333" stroke-width="1"/>
</g>
<g filter="url(#bt)">
<g id="labels" font-family="'DejaVu Sans', 'Liberation Sans', sans-serif" font-size="5.17"><text x="64.1" y="6.2"><tspan font-weight="bold" fill="#ff8a14">F</tspan><tspan fill="#909090">_Mahavrat</tspan></text><text x="86.0" y="11.6"><tspan font-weight="bold" fill="#ff1a1a">P</tspan><tspan fill="#909090">_ThulaThula</tspan></text><text x="106.0" y="17.1"><tspan font-weight="bold" fill="#ff1a1a">P</tspan><tspan fill="#909090"> (5)</tspan></text><text x="89.5" y="22.5"><tspan font-weight="bold" fill="#ff1a1a">P</tspan><tspan fill="#909090">_CactusJack</tspan></text><text x="89.5" y="27.9"><tspan font-weight="bold" fill="#ff1a1a">P</tspan><tspan fill="#909090">_Glaske</tspan></text><text x="90.5" y="33.4"><tspan font-weight="bold" fill="#ff1a1a">P</tspan><tspan fill="#909090">_Phalm</tspan></text><text x="90.5" y="38.8"><tspan font-weight="bold" fill="#ff1a1a">P</tspan><tspan fill="#909090">_StressBall</tspan></text><text x="90.5" y="44.3"><tspan font-weight="bold" fill="#ff1a1a">P</tspan><tspan fill="#909090">_Megiddo</tspan></text><text x="86.0" y="49.7"><tspan font-weight="bold" fill="#ff1a1a">P</tspan><tspan fill="#909090">_KilKor</tspan></text><text x="86.0" y="55.1"><tspan font-weight="bold" fill="#ff1a1a">P</tspan><tspan fill="#909090">_Willsammy</tspan></text><text x="92.8" y="60.6"><tspan font-weight="bold" fill="#ff1a1a">P</tspan><tspan fill="#909090">_Atcoo</tspan></text><text x="97.6" y="66.0"><tspan font-weight="bold" fill="#ff1a1a">P</tspan><tspan fill="#909090"> (2)</tspan></text><text x="99.0" y="71.4"><tspan font-weight="bold" fill="#ff8a14">F</tspan><tspan fill="#909090">_Martik</tspan></text><text x="96.2" y="76.9"><tspan font-weight="bold" fill="#ff8a14">F</tspan><tspan fill="#909090">_ShiLan</tspan></text><text x="94.8" y="82.3"><tspan font-weight="bold" fill="#ff8a14">F</tspan><tspan fill="#909090">_Spoonbill</tspan></text><text x="97.6" y="87.7"><tspan font-weight="bold" fill="#ff1a1a">P</tspan><tspan fill="#909090">_StevieRay</tspan></text><text x="91.1" y="93.2"><tspan font-weight="bold" fill="#ff1a1a">P</tspan><tspan fill="#909090"> (2)</tspan></text><text x="104.8" y="98.6"><tspan font-weight="bold" fill="#ff8a14">F</tspan><tspan fill="#909090">_EleanorGeorge</tspan></text><text x="101.0" y="104.0"><tspan font-weight="bold" fill="#ff1a1a">P</tspan><tspan fill="#909090"> (16)</tspan></text><text x="104.8" y="109.5"><tspan font-weight="bold" fill="#ff8a14">F</tspan><tspan fill="#909090">_DLane</tspan></text><text x="112.0" y="114.9"><tspan font-weight="bold" fill="#ff8a14">F</tspan><tspan fill="#909090">_StAnnes</tspan></text><text x="101.0" y="120.4"><tspan font-weight="bold" fill="#ff8a14">F</tspan><tspan fill="#909090"> (3)</tspan></text><text x="89.0" y="125.8"><tspan font-weight="bold" fill="#ff8a14">F</tspan><tspan fill="#909090">_Seagreen</tspan></text><text x="94.3" y="131.2"><tspan font-weight="bold" fill="#c8a414">N</tspan><tspan fill="#909090">_Xeno</tspan></text><text x="110.9" y="136.7"><tspan font-weight="bold" fill="#ff8a14">F</tspan><tspan fill="#909090">_DRBy19</tspan></text><text x="125.2" y="142.1"><tspan font-weight="bold" fill="#ff8a14">F</tspan><tspan fill="#909090"> (2)</tspan></text><text x="135.2" y="147.5"><tspan font-weight="bold" fill="#ff8a14">F</tspan><tspan fill="#909090">_OwlsT2W</tspan></text><text x="140.5" y="153.0"><tspan font-weight="bold" fill="#b4a028">Singleton</tspan><tspan fill="#909090">_MooMoo</tspan></text><text x="170.0" y="158.4"><tspan font-weight="bold" fill="#c8a414">K</tspan><tspan fill="#909090">_Boilgate</tspan></text><text x="123.4" y="163.8"><tspan font-weight="bold" fill="#ff8a14">F</tspan><tspan fill="#909090">_Bobi</tspan></text><text x="139.0" y="169.3"><tspan font-weight="bold" fill="#ff8a14">F</tspan><tspan fill="#909090"> (7)</tspan></text><text x="112.2" y="174.7"><tspan font-weight="bold" fill="#ff8a14">F</tspan><tspan fill="#909090">_Awesomesauce</tspan></text><text x="112.2" y="180.2"><tspan font-weight="bold" fill="#ff8a14">F</tspan><tspan fill="#909090">_Misha28</tspan></text><text x="112.2" y="185.6"><tspan font-weight="bold" fill="#ff8a14">F</tspan><tspan fill="#909090">_TootsiePop</tspan></text><text x="129.2" y="191.0"><tspan font-weight="bold" fill="#a8a83c">I</tspan><tspan fill="#909090"> (2)</tspan></text><text x="114.6" y="196.5"><tspan font-weight="bold" fill="#ff8a14">F</tspan><tspan fill="#909090">_Batiatus</tspan></text><text x="115.8" y="201.9"><tspan font-weight="bold" fill="#ff8a14">F</tspan><tspan fill="#909090">_Filuzino</tspan></text><text x="118.7" y="207.3"><tspan font-weight="bold" fill="#ff8a14">F</tspan><tspan fill="#909090">_SG4</tspan></text><text x="122.2" y="212.8"><tspan font-weight="bold" fill="#ffb400">E</tspan><tspan fill="#909090"> (8)</tspan></text><text x="125.4" y="218.2"><tspan font-weight="bold" fill="#ffb400">E</tspan><tspan fill="#909090"> (2)</tspan></text><text x="122.2" y="223.6"><tspan font-weight="bold" fill="#ffb400">E</tspan><tspan fill="#909090">_HanKaySha</tspan></text><text x="122.2" y="229.1"><tspan font-weight="bold" fill="#ffb400">E</tspan><tspan fill="#909090"> (5)</tspan></text><text x="133.8" y="234.5"><tspan font-weight="bold" fill="#ffb400">E</tspan><tspan fill="#909090">_MISSy</tspan></text><text x="133.8" y="239.9"><tspan font-weight="bold" fill="#ffb400">E</tspan><tspan fill="#909090">_Murica</tspan></text><text x="123.1" y="245.4"><tspan font-weight="bold" fill="#ffb400">E</tspan><tspan fill="#909090"> (2)</tspan></text><text x="152.6" y="250.8"><tspan font-weight="bold" fill="#1a8c1a">A</tspan><tspan fill="#909090"> (23)</tspan></text><text x="151.0" y="256.3"><tspan font-weight="bold" fill="#1e90ff">J</tspan><tspan fill="#909090">_Omega</tspan></text><text x="147.6" y="261.7"><tspan font-weight="bold" fill="#1e90ff">J</tspan><tspan fill="#909090">_HokkenD</tspan></text><text x="154.5" y="267.1"><tspan font-weight="bold" fill="#1e90ff">J</tspan><tspan fill="#909090">_Hannaconda</tspan></text><text x="147.6" y="272.6"><tspan font-weight="bold" fill="#1e90ff">J</tspan><tspan fill="#909090">_Optimus</tspan></text><text x="147.6" y="278.0"><tspan font-weight="bold" fill="#1e90ff">J</tspan><tspan fill="#909090"> (4)</tspan></text><text x="145.0" y="283.4"><tspan font-weight="bold" fill="#1a8c1a">A</tspan><tspan fill="#909090"> (6)</tspan></text><text x="146.4" y="288.9"><tspan font-weight="bold" fill="#1a8c1a">A</tspan><tspan fill="#909090"> (7)</tspan></text><text x="142.2" y="294.3"><tspan font-weight="bold" fill="#1a8c1a">A</tspan><tspan fill="#909090"> (3)</tspan></text><text x="133.3" y="299.7"><tspan font-weight="bold" fill="#1a8c1a">A</tspan><tspan fill="#909090"> (3)</tspan></text><text x="131.5" y="305.2"><tspan font-weight="bold" fill="#1a8c1a">A</tspan><tspan fill="#909090">_Rhynn</tspan></text><text x="147.5" y="310.6"><tspan font-weight="bold" fill="#1a8c1a">A</tspan><tspan fill="#909090">_Mule</tspan></text><text x="148.9" y="316.1"><tspan font-weight="bold" fill="#1a8c1a">A</tspan><tspan fill="#909090">_Smairt</tspan></text><text x="163.4" y="321.5"><tspan font-weight="bold" fill="#1e90ff">J</tspan><tspan fill="#909090">_LittleE</tspan></text><text x="147.5" y="326.9"><tspan font-weight="bold" fill="#1a8c1a">A</tspan><tspan fill="#909090">_PhrostyMug</tspan></text><text x="146.8" y="332.4"><tspan font-weight="bold" fill="#1a8c1a">A</tspan><tspan fill="#909090">_Perseus</tspan></text><text x="143.0" y="337.8"><tspan font-weight="bold" fill="#1a8c1a">A</tspan><tspan fill="#909090"> (3)</tspan></text><text x="146.0" y="343.2"><tspan font-weight="bold" fill="#1a8c1a">A</tspan><tspan fill="#909090"> (2)</tspan></text><text x="119.2" y="348.7"><tspan font-weight="bold" fill="#ffb400">E</tspan><tspan fill="#909090"> (3)</tspan></text><text x="125.9" y="354.1"><tspan font-weight="bold" fill="#ffb400">E</tspan><tspan fill="#909090">_BaboJay</tspan></text><text x="128.3" y="359.5"><tspan font-weight="bold" fill="#ffb400">E</tspan><tspan fill="#909090">_Pat3</tspan></text><text x="132.2" y="365.0"><tspan font-weight="bold" fill="#ffb400">E</tspan><tspan fill="#909090">_Rimmer</tspan></text><text x="140.0" y="370.4"><tspan font-weight="bold" fill="#ffb400">E</tspan><tspan fill="#909090">_HufflyPuff</tspan></text><text x="163.3" y="375.8"><tspan font-weight="bold" fill="#1a8c1a">A</tspan><tspan fill="#909090"> (4)</tspan></text><text x="136.9" y="381.3"><tspan font-weight="bold" fill="#ffb400">E</tspan><tspan fill="#909090"> (2)</tspan></text><text x="128.3" y="386.7"><tspan font-weight="bold" fill="#ffb400">E</tspan><tspan fill="#909090"> (7)</tspan></text><text x="126.2" y="392.2"><tspan font-weight="bold" fill="#ffb400">E</tspan><tspan fill="#909090"> (2)</tspan></text><text x="145.5" y="397.6"><tspan font-weight="bold" fill="#ffb400">E</tspan><tspan fill="#909090"> (23)</tspan></text><text x="125.1" y="403.0"><tspan font-weight="bold" fill="#ffb400">E</tspan><tspan fill="#909090">_Lilac</tspan></text><text x="125.1" y="408.5"><tspan font-weight="bold" fill="#ffb400">E</tspan><tspan fill="#909090"> (3)</tspan></text><text x="125.1" y="413.9"><tspan font-weight="bold" fill="#ffb400">E</tspan><tspan fill="#909090">_Nala</tspan></text><text x="123.1" y="419.3"><tspan font-weight="bold" fill="#ffb400">E</tspan><tspan fill="#909090"> (3)</tspan></text><text x="127.2" y="424.8"><tspan font-weight="bold" fill="#ffb400">E</tspan><tspan fill="#909090">_Tarkin</tspan></text><text x="129.8" y="430.2"><tspan font-weight="bold" fill="#ffb400">E</tspan><tspan fill="#909090"> (4)</tspan></text><text x="124.0" y="435.6"><tspan font-weight="bold" fill="#ffb400">E</tspan><tspan fill="#909090">_Pharsalus</tspan></text><text x="121.0" y="441.1"><tspan font-weight="bold" fill="#ff8a14">F</tspan><tspan fill="#909090"> (2)</tspan></text><text x="127.2" y="446.5"><tspan font-weight="bold" fill="#ff8a14">F</tspan><tspan fill="#909090">_PopTart</tspan></text><text x="127.2" y="452.0"><tspan font-weight="bold" fill="#ff8a14">F</tspan><tspan fill="#909090">_SassyB</tspan></text><text x="125.5" y="457.4"><tspan font-weight="bold" fill="#ff8a14">F</tspan><tspan fill="#909090">_Bipolar</tspan></text><text x="122.2" y="462.8"><tspan font-weight="bold" fill="#ff8a14">F</tspan><tspan fill="#909090">_Dorothy</tspan></text><text x="123.4" y="468.3"><tspan font-weight="bold" fill="#ff8a14">F</tspan><tspan fill="#909090">_Pollywog</tspan></text><text x="109.7" y="473.7"><tspan font-weight="bold" fill="#ff8a14">F</tspan><tspan fill="#909090">_Taj</tspan></text><text x="109.7" y="479.1"><tspan font-weight="bold" fill="#ff8a14">F</tspan><tspan fill="#909090">_Wee</tspan></text><text x="120.4" y="484.6"><tspan font-weight="bold" fill="#ff8a14">F</tspan><tspan fill="#909090">_Mantra</tspan></text><text x="117.8" y="490.0"><tspan font-weight="bold" fill="#ff8a14">F</tspan><tspan fill="#909090">_Mova</tspan></text><text x="125.8" y="495.4"><tspan font-weight="bold" fill="#ff8a14">F</tspan><tspan fill="#909090">_Kersh</tspan></text><text x="110.5" y="500.9"><tspan font-weight="bold" fill="#ff8a14">F</tspan><tspan fill="#909090">_Hegedechwinu</tspan></text><text x="105.9" y="506.3"><tspan font-weight="bold" fill="#ff8a14">F</tspan><tspan fill="#909090">_Phalconet</tspan></text><text x="110.9" y="511.7"><tspan font-weight="bold" fill="#ff8a14">F</tspan><tspan fill="#909090">_Akhila</tspan></text><text x="110.9" y="517.2"><tspan font-weight="bold" fill="#ff8a14">F</tspan><tspan fill="#909090">_MilanaBonita</tspan></text><text x="95.3" y="522.3"><tspan font-weight="bold" fill="#b4a028">misc.</tspan><tspan fill="#8a8a8a"> (2)</tspan></text><text x="379" y="527.4"><tspan font-weight="bold" fill="#b4a028">misc.</tspan><tspan fill="#8a8a8a"> (45)</tspan></text></g>
<text x="200.7" y="546.3" text-anchor="middle" font-family="'DejaVu Sans', 'Liberation Sans', sans-serif" font-size="4.2" fill="#333" stroke="#333" stroke-width="0.2">0.2</text>
<g font-family="'DejaVu Sans', 'Liberation Sans', sans-serif" font-size="4.1"><text x="4.8" y="8.8" fill="#111" stroke="#111" stroke-width="0.1">bootstrap</text><rect x="4.2" y="11.80" width="5.4" height="5.2" fill="#d0b200"/><text x="15" y="15.90" fill="#d0b200" stroke="#d0b200" stroke-width="0.06">12</text><rect x="4.2" y="19.35" width="5.4" height="5.2" fill="#c8c200"/><text x="15" y="23.45" fill="#c8c200" stroke="#c8c200" stroke-width="0.06">29</text><rect x="4.2" y="26.90" width="5.4" height="5.2" fill="#b2c500"/><text x="15" y="31.00" fill="#b2c500" stroke="#b2c500" stroke-width="0.06">33</text><rect x="4.2" y="34.45" width="5.4" height="5.2" fill="#aac600"/><text x="15" y="38.55" fill="#aac600" stroke="#aac600" stroke-width="0.06">34</text><rect x="4.2" y="42.00" width="5.4" height="5.2" fill="#8cc800"/><text x="15" y="46.10" fill="#8cc800" stroke="#8cc800" stroke-width="0.06">38</text><rect x="4.2" y="49.55" width="5.4" height="5.2" fill="#75c800"/><text x="15" y="53.65" fill="#75c800" stroke="#75c800" stroke-width="0.06">40</text><rect x="4.2" y="57.10" width="5.4" height="5.2" fill="#6ac800"/><text x="15" y="61.20" fill="#6ac800" stroke="#6ac800" stroke-width="0.06">41</text><rect x="4.2" y="64.65" width="5.4" height="5.2" fill="#53c800"/><text x="15" y="68.75" fill="#53c800" stroke="#53c800" stroke-width="0.06">43</text><rect x="4.2" y="72.20" width="5.4" height="5.2" fill="#47c800"/><text x="15" y="76.30" fill="#47c800" stroke="#47c800" stroke-width="0.06">44</text><rect x="4.2" y="79.75" width="5.4" height="5.2" fill="#3cc800"/><text x="15" y="83.85" fill="#3cc800" stroke="#3cc800" stroke-width="0.06">45</text><rect x="4.2" y="87.30" width="5.4" height="5.2" fill="#18c800"/><text x="15" y="91.40" fill="#18c800" stroke="#18c800" stroke-width="0.06">48</text><rect x="4.2" y="94.85" width="5.4" height="5.2" fill="#0cc800"/><text x="15" y="98.95" fill="#0cc800" stroke="#0cc800" stroke-width="0.06">49</text><rect x="4.2" y="102.40" width="5.4" height="5.2" fill="#00c800"/><text x="15" y="106.50" fill="#00c800" stroke="#00c800" stroke-width="0.06">50</text><rect x="4.2" y="109.95" width="5.4" height="5.2" fill="#00c808"/><text x="15" y="114.05" fill="#00c808" stroke="#00c808" stroke-width="0.06">53</text><rect x="4.2" y="117.50" width="5.4" height="5.2" fill="#00c80f"/><text x="15" y="121.60" fill="#00c80f" stroke="#00c80f" stroke-width="0.06">56</text><rect x="4.2" y="125.05" width="5.4" height="5.2" fill="#00c814"/><text x="15" y="129.15" fill="#00c814" stroke="#00c814" stroke-width="0.06">58</text><rect x="4.2" y="132.60" width="5.4" height="5.2" fill="#00c816"/><text x="15" y="136.70" fill="#00c816" stroke="#00c816" stroke-width="0.06">59</text><rect x="4.2" y="140.15" width="5.4" height="5.2" fill="#00c819"/><text x="15" y="144.25" fill="#00c819" stroke="#00c819" stroke-width="0.06">60</text><rect x="4.2" y="147.70" width="5.4" height="5.2" fill="#00c81c"/><text x="15" y="151.80" fill="#00c81c" stroke="#00c81c" stroke-width="0.06">61</text><rect x="4.2" y="155.25" width="5.4" height="5.2" fill="#00c81e"/><text x="15" y="159.35" fill="#00c81e" stroke="#00c81e" stroke-width="0.06">62</text><rect x="4.2" y="162.80" width="5.4" height="5.2" fill="#00c820"/><text x="15" y="166.90" fill="#00c820" stroke="#00c820" stroke-width="0.06">63</text><rect x="4.2" y="170.35" width="5.4" height="5.2" fill="#00c826"/><text x="15" y="174.45" fill="#00c826" stroke="#00c826" stroke-width="0.06">65</text><rect x="4.2" y="177.90" width="5.4" height="5.2" fill="#00c828"/><text x="15" y="182.00" fill="#00c828" stroke="#00c828" stroke-width="0.06">66</text><rect x="4.2" y="185.45" width="5.4" height="5.2" fill="#00c72e"/><text x="15" y="189.55" fill="#00c72e" stroke="#00c72e" stroke-width="0.06">67</text><rect x="4.2" y="193.00" width="5.4" height="5.2" fill="#00c63b"/><text x="15" y="197.10" fill="#00c63b" stroke="#00c63b" stroke-width="0.06">69</text><rect x="4.2" y="200.55" width="5.4" height="5.2" fill="#00c641"/><text x="15" y="204.65" fill="#00c641" stroke="#00c641" stroke-width="0.06">70</text><rect x="4.2" y="208.10" width="5.4" height="5.2" fill="#00c547"/><text x="15" y="212.20" fill="#00c547" stroke="#00c547" stroke-width="0.06">71</text><rect x="4.2" y="215.65" width="5.4" height="5.2" fill="#00c454"/><text x="15" y="219.75" fill="#00c454" stroke="#00c454" stroke-width="0.06">73</text><rect x="4.2" y="223.20" width="5.4" height="5.2" fill="#00c35a"/><text x="15" y="227.30" fill="#00c35a" stroke="#00c35a" stroke-width="0.06">74</text><rect x="4.2" y="230.75" width="5.4" height="5.2" fill="#00c066"/><text x="15" y="234.85" fill="#00c066" stroke="#00c066" stroke-width="0.06">75</text><rect x="4.2" y="238.30" width="5.4" height="5.2" fill="#00be73"/><text x="15" y="242.40" fill="#00be73" stroke="#00be73" stroke-width="0.06">76</text><rect x="4.2" y="245.85" width="5.4" height="5.2" fill="#00bc80"/><text x="15" y="249.95" fill="#00bc80" stroke="#00bc80" stroke-width="0.06">77</text><rect x="4.2" y="253.40" width="5.4" height="5.2" fill="#00b98c"/><text x="15" y="257.50" fill="#00b98c" stroke="#00b98c" stroke-width="0.06">78</text><rect x="4.2" y="260.95" width="5.4" height="5.2" fill="#00b996"/><text x="15" y="265.05" fill="#00b996" stroke="#00b996" stroke-width="0.06">79</text><rect x="4.2" y="268.50" width="5.4" height="5.2" fill="#00b9a0"/><text x="15" y="272.60" fill="#00b9a0" stroke="#00b9a0" stroke-width="0.06">80</text><rect x="4.2" y="276.05" width="5.4" height="5.2" fill="#00b9aa"/><text x="15" y="280.15" fill="#00b9aa" stroke="#00b9aa" stroke-width="0.06">81</text><rect x="4.2" y="283.60" width="5.4" height="5.2" fill="#00b9b4"/><text x="15" y="287.70" fill="#00b9b4" stroke="#00b9b4" stroke-width="0.06">82</text><rect x="4.2" y="291.15" width="5.4" height="5.2" fill="#00aeb8"/><text x="15" y="295.25" fill="#00aeb8" stroke="#00aeb8" stroke-width="0.06">83</text><rect x="4.2" y="298.70" width="5.4" height="5.2" fill="#00a2bc"/><text x="15" y="302.80" fill="#00a2bc" stroke="#00a2bc" stroke-width="0.06">84</text><rect x="4.2" y="306.25" width="5.4" height="5.2" fill="#0097bf"/><text x="15" y="310.35" fill="#0097bf" stroke="#0097bf" stroke-width="0.06">85</text><rect x="4.2" y="313.80" width="5.4" height="5.2" fill="#008cc3"/><text x="15" y="317.90" fill="#008cc3" stroke="#008cc3" stroke-width="0.06">86</text><rect x="4.2" y="321.35" width="5.4" height="5.2" fill="#0080c4"/><text x="15" y="325.45" fill="#0080c4" stroke="#0080c4" stroke-width="0.06">87</text><rect x="4.2" y="328.90" width="5.4" height="5.2" fill="#0075c5"/><text x="15" y="333.00" fill="#0075c5" stroke="#0075c5" stroke-width="0.06">88</text><rect x="4.2" y="336.45" width="5.4" height="5.2" fill="#0069c6"/><text x="15" y="340.55" fill="#0069c6" stroke="#0069c6" stroke-width="0.06">89</text><rect x="4.2" y="344.00" width="5.4" height="5.2" fill="#005dc6"/><text x="15" y="348.10" fill="#005dc6" stroke="#005dc6" stroke-width="0.06">90</text><rect x="4.2" y="351.55" width="5.4" height="5.2" fill="#0052c7"/><text x="15" y="355.65" fill="#0052c7" stroke="#0052c7" stroke-width="0.06">91</text><rect x="4.2" y="359.10" width="5.4" height="5.2" fill="#0046c8"/><text x="15" y="363.20" fill="#0046c8" stroke="#0046c8" stroke-width="0.06">92</text><rect x="4.2" y="366.65" width="5.4" height="5.2" fill="#013ec8"/><text x="15" y="370.75" fill="#013ec8" stroke="#013ec8" stroke-width="0.06">93</text><rect x="4.2" y="374.20" width="5.4" height="5.2" fill="#0237c8"/><text x="15" y="378.30" fill="#0237c8" stroke="#0237c8" stroke-width="0.06">94</text><rect x="4.2" y="381.75" width="5.4" height="5.2" fill="#0430c8"/><text x="15" y="385.85" fill="#0430c8" stroke="#0430c8" stroke-width="0.06">95</text><rect x="4.2" y="389.30" width="5.4" height="5.2" fill="#0528c8"/><text x="15" y="393.40" fill="#0528c8" stroke="#0528c8" stroke-width="0.06">96</text><rect x="4.2" y="396.85" width="5.4" height="5.2" fill="#0620c8"/><text x="15" y="400.95" fill="#0620c8" stroke="#0620c8" stroke-width="0.06">97</text><rect x="4.2" y="404.40" width="5.4" height="5.2" fill="#0819c8"/><text x="15" y="408.50" fill="#0819c8" stroke="#0819c8" stroke-width="0.06">98</text><rect x="4.2" y="411.95" width="5.4" height="5.2" fill="#0912c8"/><text x="15" y="416.05" fill="#0912c8" stroke="#0912c8" stroke-width="0.06">99</text><rect x="4.2" y="419.50" width="5.4" height="5.2" fill="#0a0ac8"/><text x="15" y="423.60" fill="#0a0ac8" stroke="#0a0ac8" stroke-width="0.06">100</text></g>
</g>
<g>
<circle cx="197.5" cy="20.6" r="2.45" fill="#f5e600" stroke="#1a1a1a" stroke-width="0.7"/>
<circle cx="197.5" cy="26.0" r="2.45" fill="#f5e600" stroke="#1a1a1a" stroke-width="0.7"/>
<circle cx="197.5" cy="31.5" r="2.45" fill="#f5e600" stroke="#1a1a1a" stroke-width="0.7"/>
<circle cx="197.5" cy="36.9" r="2.45" fill="#f5e600" stroke="#1a1a1a" stroke-width="0.7"/>
<circle cx="197.5" cy="42.4" r="2.45" fill="#f5e600" stroke="#1a1a1a" stroke-width="0.7"/>
<circle cx="197.5" cy="47.8" r="2.45" fill="#f5e600" stroke="#1a1a1a" stroke-width="0.7"/>
<circle cx="197.5" cy="53.2" r="2.45" fill="#f5e600" stroke="#1a1a1a" stroke-width="0.7"/>
<circle cx="197.5" cy="58.7" r="2.45" fill="#f5e600" stroke="#1a1a1a" stroke-width="0.7"/>
<circle cx="197.5" cy="69.5" r="2.45" fill="#f5e600" stroke="#1a1a1a" stroke-width="0.7"/>
<circle cx="197.5" cy="75.0" r="2.45" fill="#ff14c8" stroke="#1a1a1a" stroke-width="0.7"/>
<circle cx="203.2" cy="75.0" r="2.45" fill="#f5e600" stroke="#1a1a1a" stroke-width="0.7"/>
<circle cx="197.5" cy="113.0" r="2.45" fill="#f5e600" stroke="#1a1a1a" stroke-width="0.7"/>
<circle cx="197.5" cy="134.8" r="2.45" fill="#f5e600" stroke="#1a1a1a" stroke-width="0.7"/>
<circle cx="197.5" cy="145.6" r="2.45" fill="#ff14c8" stroke="#1a1a1a" stroke-width="0.7"/>
<circle cx="197.5" cy="161.9" r="2.45" fill="#f5e600" stroke="#1a1a1a" stroke-width="0.7"/>
<circle cx="197.5" cy="172.8" r="2.45" fill="#f5e600" stroke="#1a1a1a" stroke-width="0.7"/>
<circle cx="197.5" cy="178.3" r="2.45" fill="#f5e600" stroke="#1a1a1a" stroke-width="0.7"/>
<circle cx="197.5" cy="183.7" r="2.45" fill="#f5e600" stroke="#1a1a1a" stroke-width="0.7"/>
<circle cx="197.5" cy="200.0" r="2.45" fill="#ff14c8" stroke="#1a1a1a" stroke-width="0.7"/>
<circle cx="197.5" cy="232.6" r="2.45" fill="#ff14c8" stroke="#1a1a1a" stroke-width="0.7"/>
<circle cx="197.5" cy="238.0" r="2.45" fill="#ff14c8" stroke="#1a1a1a" stroke-width="0.7"/>
<circle cx="197.5" cy="265.2" r="2.45" fill="#f5e600" stroke="#1a1a1a" stroke-width="0.7"/>
<circle cx="197.5" cy="401.1" r="2.45" fill="#f5e600" stroke="#1a1a1a" stroke-width="0.7"/>
<circle cx="197.5" cy="455.5" r="2.45" fill="#ff14c8" stroke="#1a1a1a" stroke-width="0.7"/>
<circle cx="197.5" cy="460.9" r="2.45" fill="#f5e600" stroke="#1a1a1a" stroke-width="0.7"/>
<circle cx="197.5" cy="466.4" r="2.45" fill="#ff14c8" stroke="#1a1a1a" stroke-width="0.7"/>
<circle cx="197.5" cy="471.8" r="2.45" fill="#00e0f0" stroke="#1a1a1a" stroke-width="0.7"/>
<circle cx="197.5" cy="477.2" r="2.45" fill="#00e0f0" stroke="#1a1a1a" stroke-width="0.7"/>
<circle cx="197.5" cy="482.7" r="2.45" fill="#ff14c8" stroke="#1a1a1a" stroke-width="0.7"/>
<circle cx="203.2" cy="482.7" r="2.45" fill="#00e0f0" stroke="#1a1a1a" stroke-width="0.7"/>
<circle cx="197.5" cy="488.1" r="2.45" fill="#00e0f0" stroke="#1a1a1a" stroke-width="0.7"/>
<circle cx="197.5" cy="493.5" r="2.45" fill="#00e0f0" stroke="#1a1a1a" stroke-width="0.7"/>
<circle cx="197.5" cy="499.0" r="2.45" fill="#00e0f0" stroke="#1a1a1a" stroke-width="0.7"/>
<circle cx="197.5" cy="504.4" r="2.45" fill="#00e0f0" stroke="#1a1a1a" stroke-width="0.7"/>
<circle cx="197.5" cy="509.8" r="2.45" fill="#f5e600" stroke="#1a1a1a" stroke-width="0.7"/>
<circle cx="203.2" cy="509.8" r="2.45" fill="#00e0f0" stroke="#1a1a1a" stroke-width="0.7"/>
<circle cx="197.5" cy="515.3" r="2.45" fill="#f5e600" stroke="#1a1a1a" stroke-width="0.7"/>
<circle cx="203.2" cy="515.3" r="2.45" fill="#00e0f0" stroke="#1a1a1a" stroke-width="0.7"/>
<rect x="258.5" y="5" width="172.2" height="52" fill="#fff" stroke="#555" stroke-width="0.9"/>
<text x="261.3" y="16.1" font-family="'Liberation Serif', serif" font-weight="bold" font-size="12.6" fill="#000" stroke="#000" stroke-width="0.25" textLength="93.2" lengthAdjust="spacingAndGlyphs">Insertion elements</text>
<circle cx="265.2" cy="25.9" r="4.05" fill="#f5e600" stroke="#000" stroke-width="0.95"/>
<text x="272.5" y="28.5" font-family="'Liberation Serif', serif" font-size="10.3" fill="#000" textLength="23.8" lengthAdjust="spacingAndGlyphs">intein</text>
<circle cx="265.2" cy="37.6" r="4.05" fill="#ff14c8" stroke="#000" stroke-width="0.95"/>
<text x="272.5" y="40.2" font-family="'Liberation Serif', serif" font-size="10.3" fill="#000" textLength="64.8" lengthAdjust="spacingAndGlyphs">ShiLan domain</text>
<circle cx="265.2" cy="49.2" r="4.05" fill="#00e0f0" stroke="#000" stroke-width="0.95"/>
<text x="272.5" y="51.8" font-family="'Liberation Serif', serif" font-size="10.3" fill="#000" textLength="154" lengthAdjust="spacingAndGlyphs">LAGLIDADG homing endonuclease</text>
</g>
</svg>
</body></html>
